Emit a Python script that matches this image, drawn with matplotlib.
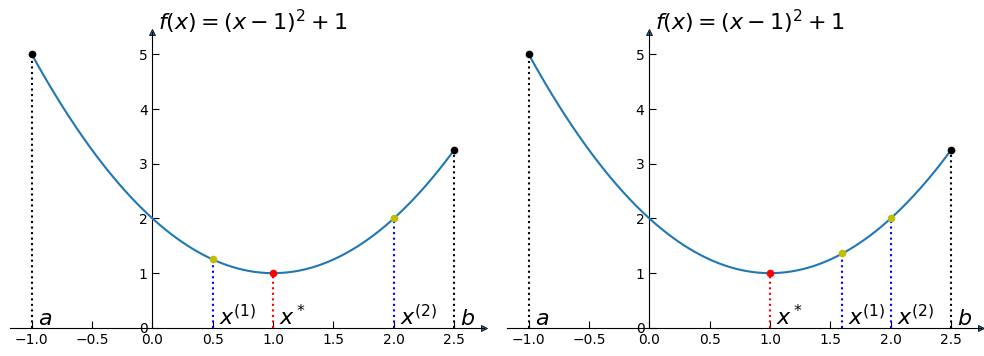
import numpy as np
import matplotlib
matplotlib.use("Agg")
import matplotlib.pyplot as plt

a, b = -1.0, 2.5
x_star = 1.0
left_pts = [0.5, 2.0]
right_pts = [1.6, 2.0]
xticks = [-1.0, -0.5, 0.0, 0.5, 1.0, 1.5, 2.0, 2.5]
yticks = [0, 1, 2, 3, 4, 5]


def f(x):
    return (x - 1) ** 2 + 1


fig = plt.figure(figsize=(9.84, 3.56), dpi=100)
ax1 = fig.add_axes([0.0102, 0.079, 0.482, 0.83])
ax2 = fig.add_axes([0.5152, 0.079, 0.482, 0.83])


def draw(ax, p1, p2):
    xs = np.linspace(a, b, 300)
    ax.plot(xs, f(xs), color="C0", lw=1.5, zorder=3)
    for xv in (a, b):
        ax.plot([xv, xv], [0, f(xv)], "k:", lw=1.5)
        ax.plot(xv, f(xv), "ko", ms=4.5, zorder=4)
    ax.plot([x_star, x_star], [0, f(x_star)], "r:", lw=1.5)
    ax.plot(x_star, f(x_star), "ro", ms=4.5, zorder=4)
    for xv in (p1, p2):
        ax.plot([xv, xv], [0, f(xv)], "b:", lw=1.5)
        ax.plot(xv, f(xv), "o", color="y", ms=4.5, zorder=4)

    fs = 16
    ax.text(a + 0.05, 0.05, "$a$", fontsize=fs)
    ax.text(b + 0.05, 0.05, "$b$", fontsize=fs)
    ax.text(x_star + 0.05, 0.05, "$x^*$", fontsize=fs)
    ax.text(p1 + 0.05, 0.05, "$x^{(1)}$", fontsize=fs)
    ax.text(p2 + 0.05, 0.05, "$x^{(2)}$", fontsize=fs)
    ax.text(0.05, 5.33, "$f(x)=(x-1)^2+1$", fontsize=16, va="bottom")

    ax.set_xlim(-1.18, 2.75)
    ax.set_ylim(0, 5.4)
    ax.spines["left"].set_position(("data", 0))
    ax.spines["bottom"].set_position(("data", 0))
    ax.spines["top"].set_visible(False)
    ax.spines["right"].set_visible(False)
    ax.set_xticks(xticks)
    ax.set_yticks(yticks)
    ax.tick_params(direction="in", labelsize=10, length=5)
    ax.xaxis.set_ticks_position("bottom")
    ax.yaxis.set_ticks_position("left")
    ax.plot(1, 0, ">", transform=ax.get_yaxis_transform(), clip_on=False,
            color="C0", mec="k", mew=0.6, ms=5)
    ax.plot(0, 1, "^", transform=ax.get_xaxis_transform(), clip_on=False,
            color="C0", mec="k", mew=0.6, ms=5)


draw(ax1, *left_pts)
draw(ax2, *right_pts)

plt.savefig("out.png", dpi=100)
plt.close()
